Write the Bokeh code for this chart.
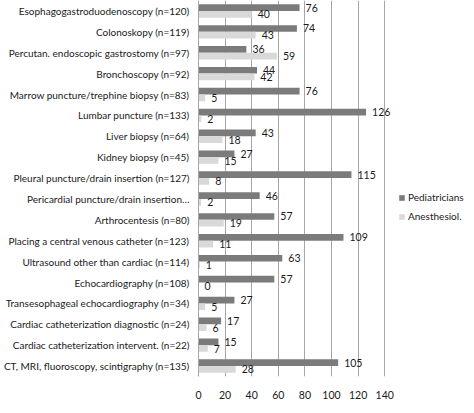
from bokeh.plotting import figure
from bokeh.models import ColumnDataSource, FactorRange, Range1d, Legend, LegendItem, FixedTicker
from bokeh.transform import dodge
from bokeh.core.properties import value
from bokeh.embed import file_html
from bokeh.resources import INLINE

categories = [
    "Esophagogastroduodenoscopy (n=120)",
    "Colonoskopy (n=119)",
    "Percutan. endoscopic gastrostomy (n=97)",
    "Bronchoscopy (n=92)",
    "Marrow puncture/trephine biopsy (n=83)",
    "Lumbar puncture (n=133)",
    "Liver biopsy (n=64)",
    "Kidney biopsy (n=45)",
    "Pleural puncture/drain insertion (n=127)",
    "Pericardial puncture/drain insertion\u2026",
    "Arthrocentesis (n=80)",
    "Placing a central venous catheter (n=123)",
    "Ultrasound other than cardiac (n=114)",
    "Echocardiography (n=108)",
    "Transesophageal echocardiography (n=34)",
    "Cardiac catheterization diagnostic (n=24)",
    "Cardiac catheterization intervent. (n=22)",
    "CT, MRI, fluoroscopy, scintigraphy (n=135)",
]
pediatricians = [76, 74, 36, 44, 76, 126, 43, 27, 115, 46, 57, 109, 63, 57, 27, 17, 15, 105]
anesthesiol = [40, 43, 59, 42, 5, 2, 18, 15, 8, 2, 19, 11, 1, 0, 5, 6, 7, 28]
x_ticks = [0, 20, 40, 60, 80, 100, 120, 140]
series_names = ["Pediatricians", "Anesthesiol."]

FONT = "Lato"
DARK = "#7b7b7b"
LIGHT = "#d9d9d9"
GRID = "#a6a6a6"
TXT = "#1a1a1a"

source = ColumnDataSource(dict(
    cat=categories,
    ped=pediatricians,
    ane=anesthesiol,
    ped_lbl=[str(v) for v in pediatricians],
    ane_lbl=[str(v) for v in anesthesiol],
))

p = figure(
    y_range=FactorRange(*reversed(categories), range_padding=0),
    x_range=Range1d(0, 201.5),
    frame_width=268, frame_height=376,
    min_border_left=190, min_border_right=0, min_border_top=0, min_border_bottom=0,
    output_backend="svg", toolbar_location=None,
)
p.outline_line_color = None
p.background_fill_color = "white"
p.border_fill_color = "white"

r_ped = p.hbar(y=dodge("cat", 0.16, range=p.y_range), right="ped", left=0, height=0.32,
               source=source, fill_color=DARK, line_color=None)
r_ane = p.hbar(y=dodge("cat", -0.16, range=p.y_range), right="ane", left=0, height=0.32,
               source=source, fill_color=LIGHT, line_color=None)

p.text(x="ped", y=dodge("cat", 0.16, range=p.y_range), text="ped_lbl", source=source,
       x_offset=6, text_align="left", text_baseline="middle",
       text_font=value(FONT), text_font_size="10.5px", text_color=TXT)
p.text(x="ane", y=dodge("cat", -0.16, range=p.y_range), text="ane_lbl", source=source,
       x_offset=6, text_align="left", text_baseline="middle",
       text_font=value(FONT), text_font_size="10.5px", text_color=TXT)

# axes
p.xaxis.ticker = FixedTicker(ticks=x_ticks)
p.xaxis.bounds = (0, 140)
p.xaxis.axis_line_color = None
p.xaxis.major_tick_line_color = None
p.xaxis.minor_tick_line_color = None
p.xaxis.major_label_text_font = FONT
p.xaxis.major_label_text_font_size = "10.5px"
p.xaxis.major_label_text_color = TXT
p.xaxis.major_label_standoff = 8

p.yaxis.axis_line_color = GRID
p.yaxis.major_tick_line_color = None
p.yaxis.minor_tick_line_color = None
p.yaxis.major_label_text_font = FONT
p.yaxis.major_label_text_font_size = "10px"
p.yaxis.major_label_text_color = TXT
p.yaxis.major_label_standoff = 3

p.xgrid.ticker = FixedTicker(ticks=x_ticks)
p.xgrid.grid_line_color = GRID
p.xgrid.bounds = (0, 140)
p.ygrid.grid_line_color = None

legend = Legend(
    items=[LegendItem(label=series_names[0], renderers=[r_ped]),
           LegendItem(label=series_names[1], renderers=[r_ane])],
    location=(200, 154),
    orientation="vertical",
    padding=0, margin=0, spacing=7,
    glyph_width=7, glyph_height=7, label_height=11, label_standoff=3,
    label_text_font=FONT, label_text_font_size="10px", label_text_color=TXT,
    background_fill_alpha=0, border_line_color=None,
)
p.add_layout(legend, "center")

open("out.html", "w").write(file_html(p, INLINE))
